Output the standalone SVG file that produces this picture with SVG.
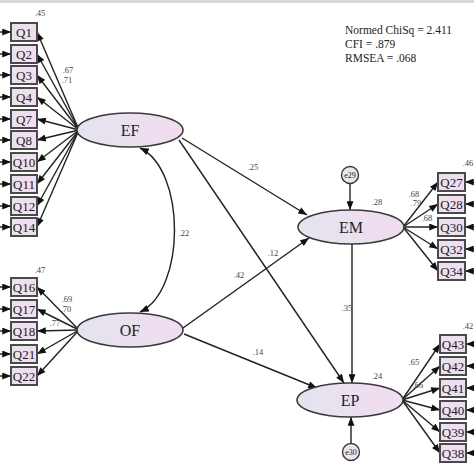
<svg xmlns="http://www.w3.org/2000/svg" width="474" height="474" viewBox="0 0 474 474">
<defs>
<marker id="ah" viewBox="0 0 10 8" refX="10" refY="4" markerWidth="10" markerHeight="7" markerUnits="userSpaceOnUse" orient="auto"><path d="M0,0 L10,4 L0,8 z" fill="#111"/></marker>
<marker id="ahs" viewBox="0 0 10 8" refX="10" refY="4" markerWidth="10" markerHeight="7" markerUnits="userSpaceOnUse" orient="auto-start-reverse"><path d="M0,0 L10,4 L0,8 z" fill="#111"/></marker>
<linearGradient id="eg" x1="0" y1="0" x2="1" y2="0"><stop offset="0" stop-color="#e4e4ee"/><stop offset="1" stop-color="#f1dcf0"/></linearGradient>
<linearGradient id="bg" x1="0" y1="0" x2="1" y2="0"><stop offset="0" stop-color="#e9e2f0"/><stop offset="1" stop-color="#f2ddf0"/></linearGradient>
</defs>
<style>
.box{fill:url(#bg);stroke:#4a4a4a;stroke-width:2}
.ell{fill:url(#eg);stroke:#3a3a3a;stroke-width:1.6}
.err{fill:#ece6f0;stroke:#3a3a3a;stroke-width:1.4}
.bt{font-family:"Liberation Serif",serif;font-size:13px;fill:#222;text-anchor:middle}
.et{font-family:"Liberation Serif",serif;font-size:16px;fill:#222;text-anchor:middle}
.ct{font-family:"Liberation Serif",serif;font-size:8px;fill:#222;text-anchor:middle}
.lb{font-family:"Liberation Serif",serif;font-size:8.5px;fill:#444;text-anchor:middle}
.fit{font-family:"Liberation Serif",serif;font-size:11.5px;fill:#222}
.ln{stroke:#222;stroke-width:1.4;fill:none}
</style>
<rect x="0" y="0" width="474" height="3" fill="#d8d8d8"/>
<g id="connectors">
<path class="ln" marker-end="url(#ah)" d="M79,130 L37,32"/>
<path class="ln" marker-end="url(#ah)" d="M79,130 L37,54"/>
<path class="ln" marker-end="url(#ah)" d="M79,130 L37,75"/>
<path class="ln" marker-end="url(#ah)" d="M79,130 L37,97"/>
<path class="ln" marker-end="url(#ah)" d="M79,130 L37,119"/>
<path class="ln" marker-end="url(#ah)" d="M79,130 L37,140"/>
<path class="ln" marker-end="url(#ah)" d="M79,130 L37,162"/>
<path class="ln" marker-end="url(#ah)" d="M79,130 L37,184"/>
<path class="ln" marker-end="url(#ah)" d="M79,130 L37,206"/>
<path class="ln" marker-end="url(#ah)" d="M79,130 L37,227"/>
<path class="ln" marker-end="url(#ah)" d="M79,330 L37,287"/>
<path class="ln" marker-end="url(#ah)" d="M79,330 L37,309"/>
<path class="ln" marker-end="url(#ah)" d="M79,330 L37,331"/>
<path class="ln" marker-end="url(#ah)" d="M79,330 L37,354"/>
<path class="ln" marker-end="url(#ah)" d="M79,330 L37,376"/>
<path class="ln" marker-end="url(#ah)" d="M403,227 L438,182"/>
<path class="ln" marker-end="url(#ah)" d="M403,227 L438,204"/>
<path class="ln" marker-end="url(#ah)" d="M403,227 L438,227"/>
<path class="ln" marker-end="url(#ah)" d="M403,227 L438,249"/>
<path class="ln" marker-end="url(#ah)" d="M403,227 L438,271"/>
<path class="ln" marker-end="url(#ah)" d="M402,400 L440,344"/>
<path class="ln" marker-end="url(#ah)" d="M402,400 L440,366"/>
<path class="ln" marker-end="url(#ah)" d="M402,400 L440,388"/>
<path class="ln" marker-end="url(#ah)" d="M402,400 L440,410"/>
<path class="ln" marker-end="url(#ah)" d="M402,400 L440,432"/>
<path class="ln" marker-end="url(#ah)" d="M402,400 L440,453"/>
<path class="ln" marker-end="url(#ah)" d="M-2,32 L11,32"/>
<path class="ln" marker-end="url(#ah)" d="M-2,54 L11,54"/>
<path class="ln" marker-end="url(#ah)" d="M-2,75 L11,75"/>
<path class="ln" marker-end="url(#ah)" d="M-2,97 L11,97"/>
<path class="ln" marker-end="url(#ah)" d="M-2,119 L11,119"/>
<path class="ln" marker-end="url(#ah)" d="M-2,140 L11,140"/>
<path class="ln" marker-end="url(#ah)" d="M-2,162 L11,162"/>
<path class="ln" marker-end="url(#ah)" d="M-2,184 L11,184"/>
<path class="ln" marker-end="url(#ah)" d="M-2,206 L11,206"/>
<path class="ln" marker-end="url(#ah)" d="M-2,227 L11,227"/>
<path class="ln" marker-end="url(#ah)" d="M-2,287 L11,287"/>
<path class="ln" marker-end="url(#ah)" d="M-2,309 L11,309"/>
<path class="ln" marker-end="url(#ah)" d="M-2,331 L11,331"/>
<path class="ln" marker-end="url(#ah)" d="M-2,354 L11,354"/>
<path class="ln" marker-end="url(#ah)" d="M-2,376 L11,376"/>
<path class="ln" marker-end="url(#ah)" d="M477,182 L465,182"/>
<path class="ln" marker-end="url(#ah)" d="M477,204 L465,204"/>
<path class="ln" marker-end="url(#ah)" d="M477,227 L465,227"/>
<path class="ln" marker-end="url(#ah)" d="M477,249 L465,249"/>
<path class="ln" marker-end="url(#ah)" d="M477,271 L465,271"/>
<path class="ln" marker-end="url(#ah)" d="M478,344 L466,344"/>
<path class="ln" marker-end="url(#ah)" d="M478,366 L466,366"/>
<path class="ln" marker-end="url(#ah)" d="M478,388 L466,388"/>
<path class="ln" marker-end="url(#ah)" d="M478,410 L466,410"/>
<path class="ln" marker-end="url(#ah)" d="M478,432 L466,432"/>
<path class="ln" marker-end="url(#ah)" d="M478,453 L466,453"/>
<path class="ln" marker-end="url(#ah)" d="M182,138 L307,215"/>
<path class="ln" marker-end="url(#ah)" d="M179,140 L344,383"/>
<path class="ln" marker-end="url(#ah)" d="M183,328 L309,238"/>
<path class="ln" marker-end="url(#ah)" d="M184,334 L317,388"/>
<path class="ln" marker-end="url(#ah)" d="M352,244 L352,383"/>
<path class="ln" marker-start="url(#ahs)" marker-end="url(#ah)" d="M140,148 C186,170 186,290 140,312"/>
<path class="ln" marker-end="url(#ah)" d="M350,184 L350,210"/>
<path class="ln" marker-end="url(#ah)" d="M351,443 L351,417"/>
</g>
<g id="EF"><ellipse class="ell" cx="130" cy="130" rx="53" ry="17"/><text class="et" x="130" y="136">EF</text></g>
<g id="OF"><ellipse class="ell" cx="130" cy="330" rx="53" ry="17"/><text class="et" x="130" y="336">OF</text></g>
<g id="EM"><ellipse class="ell" cx="351" cy="227" rx="53" ry="17"/><text class="et" x="351" y="233">EM</text></g>
<g id="EP"><ellipse class="ell" cx="350" cy="400" rx="53" ry="17"/><text class="et" x="350" y="406">EP</text></g>
<g id="e29"><circle class="err" cx="350" cy="175" r="8.5"/><text class="ct" x="350" y="178">e29</text></g>
<g id="e30"><circle class="err" cx="351" cy="452" r="8.5"/><text class="ct" x="351" y="455">e30</text></g>
<g id="Q1"><rect class="box" x="11" y="23" width="26" height="18"/><text class="bt" x="24" y="36.5">Q1</text></g>
<g id="Q2"><rect class="box" x="11" y="45" width="26" height="18"/><text class="bt" x="24" y="58.5">Q2</text></g>
<g id="Q3"><rect class="box" x="11" y="66" width="26" height="18"/><text class="bt" x="24" y="79.5">Q3</text></g>
<g id="Q4"><rect class="box" x="11" y="88" width="26" height="18"/><text class="bt" x="24" y="101.5">Q4</text></g>
<g id="Q7"><rect class="box" x="11" y="110" width="26" height="18"/><text class="bt" x="24" y="123.5">Q7</text></g>
<g id="Q8"><rect class="box" x="11" y="131" width="26" height="18"/><text class="bt" x="24" y="144.5">Q8</text></g>
<g id="Q10"><rect class="box" x="11" y="153" width="26" height="18"/><text class="bt" x="24" y="166.5">Q10</text></g>
<g id="Q11"><rect class="box" x="11" y="175" width="26" height="18"/><text class="bt" x="24" y="188.5">Q11</text></g>
<g id="Q12"><rect class="box" x="11" y="197" width="26" height="18"/><text class="bt" x="24" y="210.5">Q12</text></g>
<g id="Q14"><rect class="box" x="11" y="218" width="26" height="18"/><text class="bt" x="24" y="231.5">Q14</text></g>
<g id="Q16"><rect class="box" x="11" y="278" width="26" height="18"/><text class="bt" x="24" y="291.5">Q16</text></g>
<g id="Q17"><rect class="box" x="11" y="300" width="26" height="18"/><text class="bt" x="24" y="313.5">Q17</text></g>
<g id="Q18"><rect class="box" x="11" y="322" width="26" height="18"/><text class="bt" x="24" y="335.5">Q18</text></g>
<g id="Q21"><rect class="box" x="11" y="345" width="26" height="18"/><text class="bt" x="24" y="358.5">Q21</text></g>
<g id="Q22"><rect class="box" x="11" y="367" width="26" height="18"/><text class="bt" x="24" y="380.5">Q22</text></g>
<g id="Q27"><rect class="box" x="438" y="173" width="27" height="18"/><text class="bt" x="451.5" y="186.5">Q27</text></g>
<g id="Q28"><rect class="box" x="438" y="195" width="27" height="18"/><text class="bt" x="451.5" y="208.5">Q28</text></g>
<g id="Q30"><rect class="box" x="438" y="218" width="27" height="18"/><text class="bt" x="451.5" y="231.5">Q30</text></g>
<g id="Q32"><rect class="box" x="438" y="240" width="27" height="18"/><text class="bt" x="451.5" y="253.5">Q32</text></g>
<g id="Q34"><rect class="box" x="438" y="262" width="27" height="18"/><text class="bt" x="451.5" y="275.5">Q34</text></g>
<g id="Q43"><rect class="box" x="440" y="335" width="26" height="18"/><text class="bt" x="453" y="348.5">Q43</text></g>
<g id="Q42"><rect class="box" x="440" y="357" width="26" height="18"/><text class="bt" x="453" y="370.5">Q42</text></g>
<g id="Q41"><rect class="box" x="440" y="379" width="26" height="18"/><text class="bt" x="453" y="392.5">Q41</text></g>
<g id="Q40"><rect class="box" x="440" y="401" width="26" height="18"/><text class="bt" x="453" y="414.5">Q40</text></g>
<g id="Q39"><rect class="box" x="440" y="423" width="26" height="18"/><text class="bt" x="453" y="436.5">Q39</text></g>
<g id="Q38"><rect class="box" x="440" y="444" width="26" height="18"/><text class="bt" x="453" y="457.5">Q38</text></g>
<g id="labels">
<text class="lb" x="40" y="16">.45</text>
<text class="lb" x="68" y="73">.67</text>
<text class="lb" x="67" y="83">.71</text>
<text class="lb" x="40" y="273">.47</text>
<text class="lb" x="67" y="302">.69</text>
<text class="lb" x="66" y="312">.70</text>
<text class="lb" x="55" y="326">.77</text>
<text class="lb" x="468" y="166">.46</text>
<text class="lb" x="414" y="197">.68</text>
<text class="lb" x="416" y="206">.79</text>
<text class="lb" x="427" y="221">.68</text>
<text class="lb" x="468" y="329">.42</text>
<text class="lb" x="414" y="365">.65</text>
<text class="lb" x="418" y="388">.66</text>
<text class="lb" x="377" y="205">.28</text>
<text class="lb" x="377" y="379">.24</text>
<text class="lb" x="347" y="311">.35</text>
<text class="lb" x="253" y="170">.25</text>
<text class="lb" x="184" y="236">.22</text>
<text class="lb" x="273" y="256">.12</text>
<text class="lb" x="239" y="278">.42</text>
<text class="lb" x="258" y="355">.14</text>
</g>
<g id="fit">
<text class="fit" x="345" y="34">Normed ChiSq = 2.411</text>
<text class="fit" x="345" y="48">CFI = .879</text>
<text class="fit" x="345" y="62">RMSEA = .068</text>
</g>
</svg>
